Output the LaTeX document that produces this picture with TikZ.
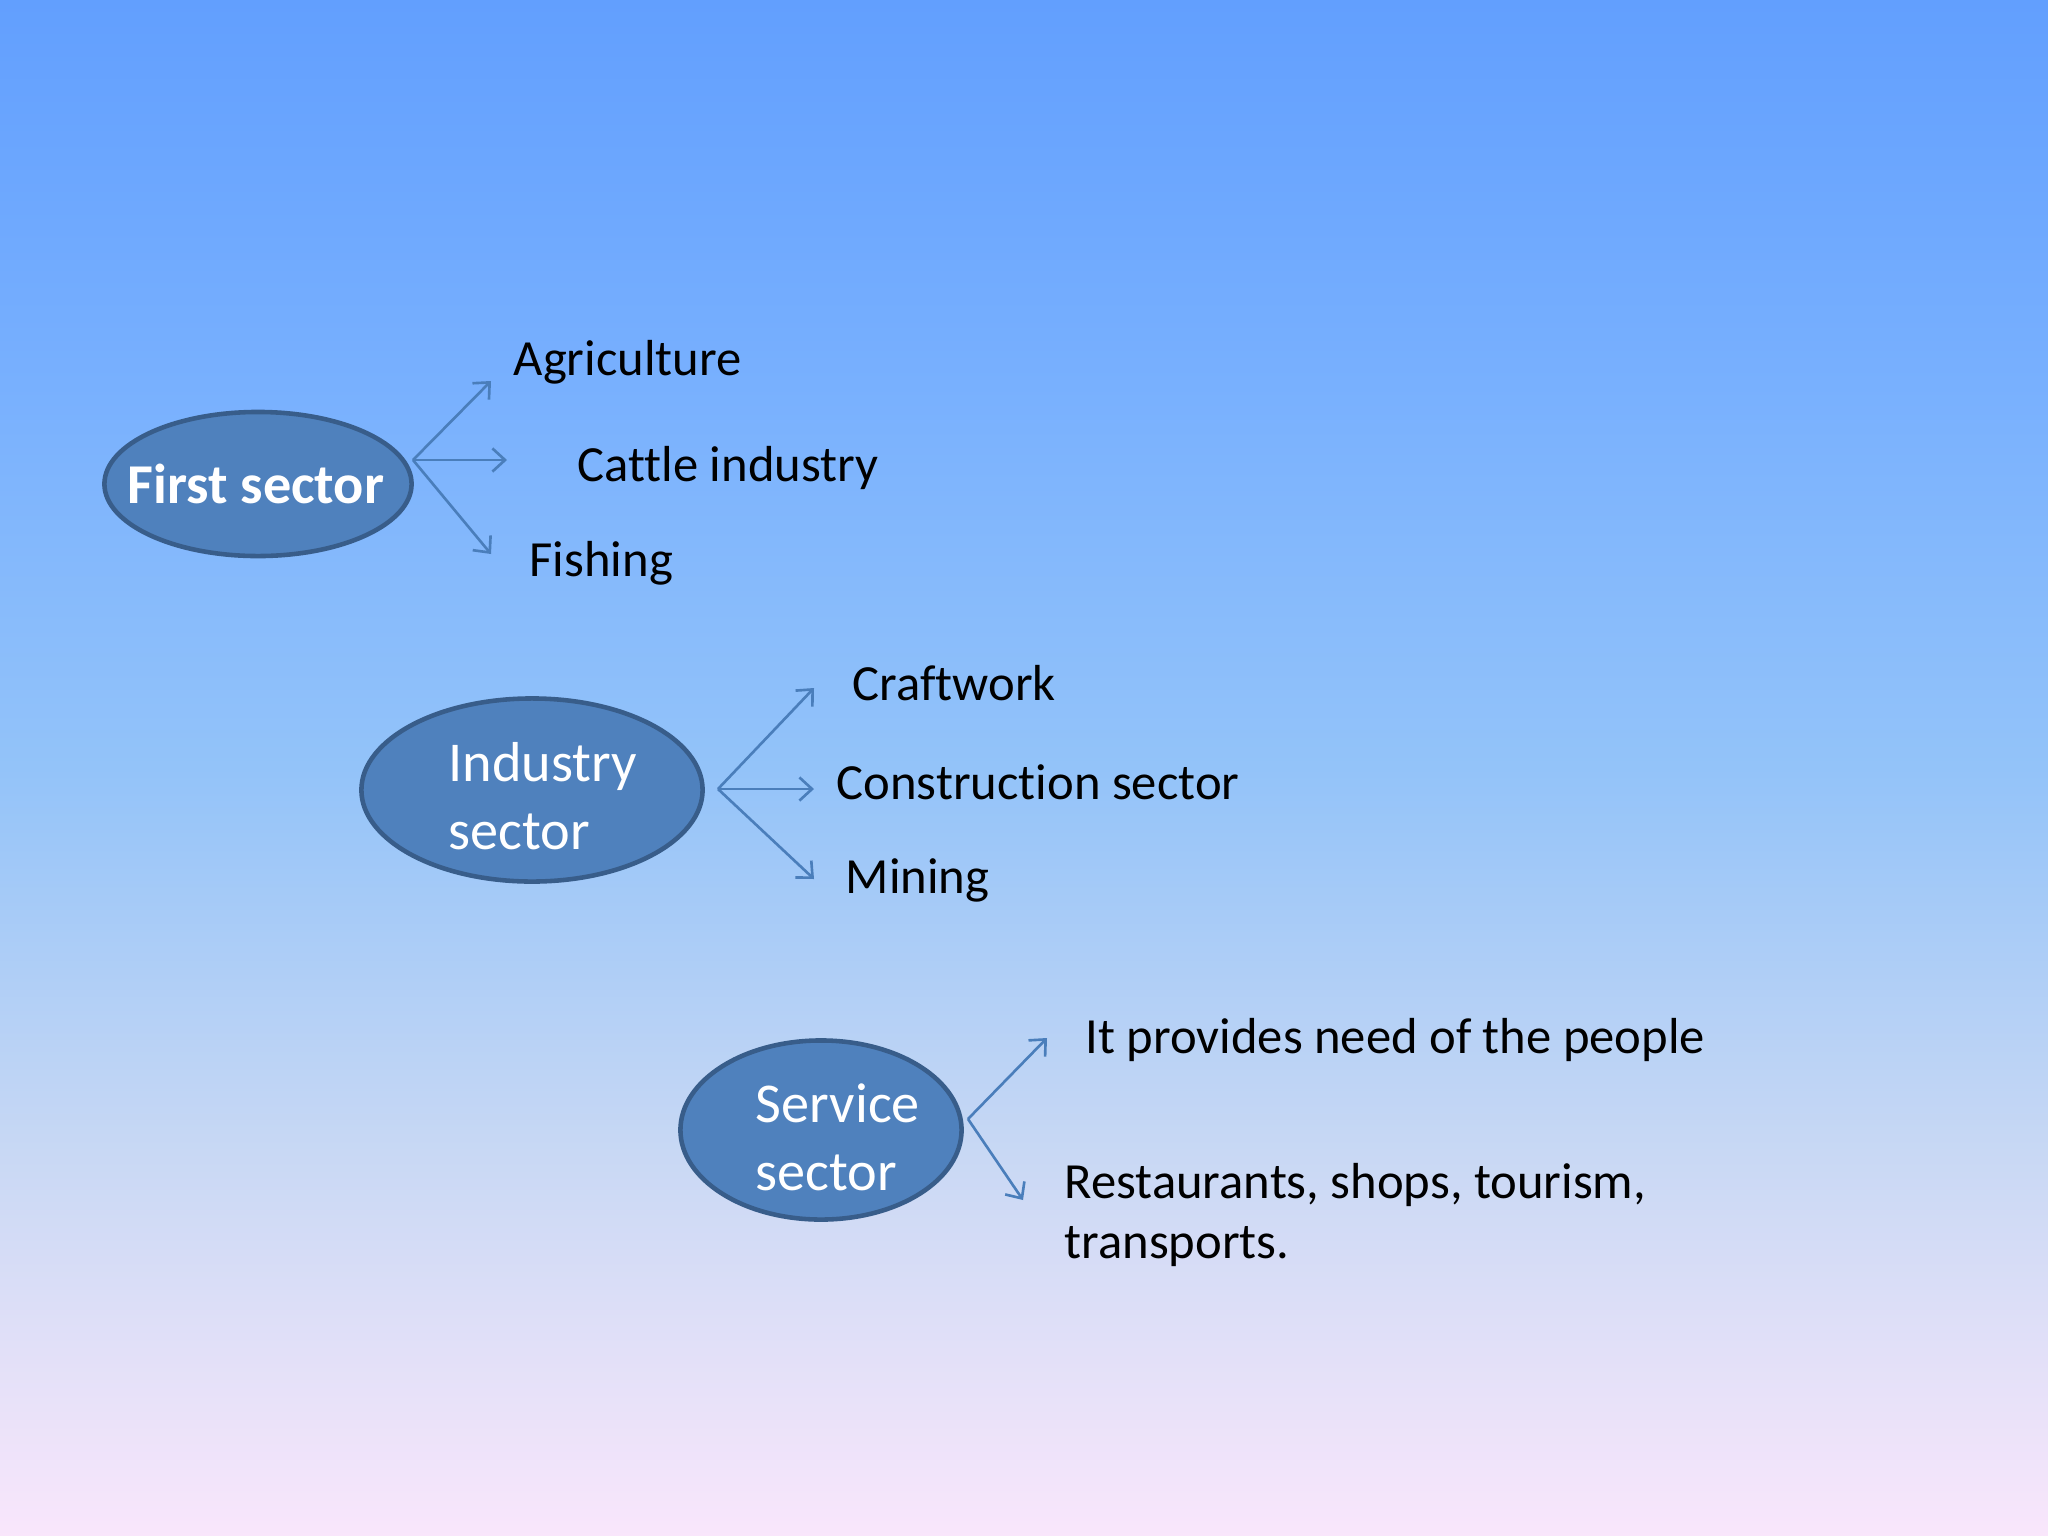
\documentclass[tikz,border=0pt]{standalone}
\usepackage{fontspec}
\setmainfont{Carlito}[RawFeature={-liga;-clig;-calt;-dlig}]
\usetikzlibrary{shapes.geometric,arrows.meta}

\definecolor{skytop}{RGB}{98,159,254}
\definecolor{skyupper}{RGB}{120,176,254}
\definecolor{skymid}{RGB}{147,195,249}
\definecolor{skypale}{RGB}{200,216,244}
\definecolor{skylav}{RGB}{226,224,248}
\definecolor{skybottom}{RGB}{249,230,251}
\definecolor{sectorfill}{RGB}{79,129,189}
\definecolor{sectorline}{RGB}{56,93,138}
\definecolor{linkblue}{RGB}{74,126,187}

\pgfdeclareverticalshading{skyfade}{100bp}{color(0bp)=(skybottom); color(25bp)=(skybottom); color(31bp)=(skylav); color(37.5bp)=(skypale); color(50bp)=(skymid); color(62.5bp)=(skyupper); color(75bp)=(skytop); color(100bp)=(skytop)}

\begin{document}
\begin{tikzpicture}[x=0.01cm,y=-0.01cm,
    sector/.style={ellipse,draw=sectorline,fill=sectorfill,line width=1.3pt,inner sep=0pt},
    sectortext/.style={anchor=base west,inner sep=0pt,text=white,font=\fontsize{16}{19.3}\selectfont},
    item/.style={anchor=base west,inner sep=0pt,font=\fontsize{14.4}{17.3}\selectfont},
    link/.style={draw=linkblue,line width=0.75pt,-{Straight Barb[length=3.6pt,width=6.6pt]}}]
      \path[shading=skyfade] (0,0) rectangle (2048,1536);

      \node[sector,minimum width=3.07cm,minimum height=1.44cm] (first) at (258,484) {};
      \node[sector,minimum width=3.41cm,minimum height=1.83cm] (industry) at (532,790) {};
      \node[sector,minimum width=2.81cm,minimum height=1.79cm] (service) at (821,1130) {};

      \node[sectortext,font=\fontsize{16}{19.3}\selectfont\bfseries] (first-a) at (127,503) {First sector};
      \node[sectortext] (industry-a) at (448,781) {Industry};
      \node[sectortext] (industry-b) at (448,849) {sector};
      \node[sectortext] (service-a) at (755,1122) {Service};
      \node[sectortext] (service-b) at (755,1190) {sector};

      \node[item] (agri) at (513,375) {Agriculture};
      \node[item] (cattle) at (577,481) {Cattle industry};
      \node[item] (fish) at (529,576) {Fishing};
      \node[item] (craft) at (852,700) {Craftwork};
      \node[item] (constr) at (836,799) {Construction sector};
      \node[item] (mining) at (845,893) {Mining};
      \node[item] (needs) at (1085,1053) {It provides need of the people};
      \node[item] (shops-a) at (1064,1198) {Restaurants, shops, tourism,};
      \node[item] (shops-b) at (1064,1258) {transports.};

      \coordinate (first-o) at (413,460);
      \coordinate (agri-tip) at (491,381);
      \coordinate (cattle-tip) at (507,460);
      \coordinate (fish-tip) at (491,554);
      \draw[link] (first-o) -- (agri-tip);
      \draw[link] (first-o) -- (cattle-tip);
      \draw[link] (first-o) -- (fish-tip);

      \coordinate (industry-o) at (718,789);
      \coordinate (craft-tip) at (814,688);
      \coordinate (constr-tip) at (814,789);
      \coordinate (mining-tip) at (814,879);
      \draw[link] (industry-o) -- (craft-tip);
      \draw[link] (industry-o) -- (constr-tip);
      \draw[link] (industry-o) -- (mining-tip);

      \coordinate (service-o) at (968,1119);
      \coordinate (needs-tip) at (1047,1038);
      \coordinate (shops-tip) at (1023,1200);
      \draw[link] (service-o) -- (needs-tip);
      \draw[link] (service-o) -- (shops-tip);
    \end{tikzpicture}
\end{document}
